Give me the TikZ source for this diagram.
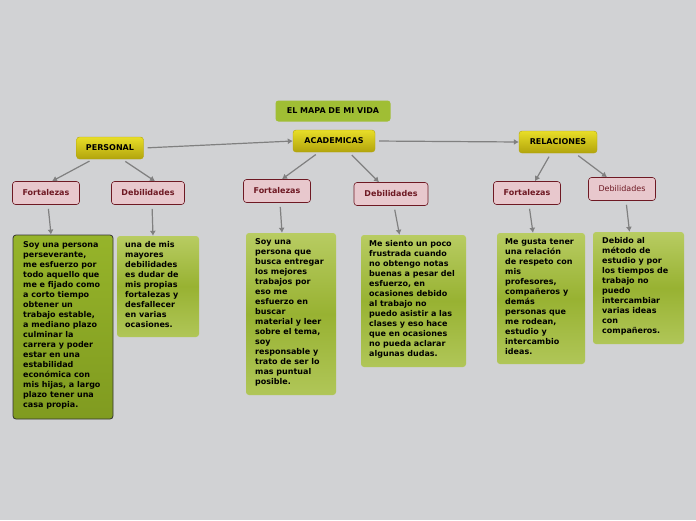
\documentclass[tikz,border=0pt]{standalone}
\usepackage{fontspec}
\setmainfont{DejaVu Sans}
\usetikzlibrary{arrows.meta}
\definecolor{bgc}{RGB}{209,210,212}
\definecolor{tboxtop}{RGB}{184,204,98}
\definecolor{tboxmid}{RGB}{152,178,50}
\definecolor{tboxbot}{RGB}{176,198,88}
\definecolor{darktop}{RGB}{150,180,42}
\definecolor{darkbot}{RGB}{128,155,32}
\definecolor{maintop}{RGB}{232,222,40}
\definecolor{mainbot}{RGB}{178,164,12}
\definecolor{titlec}{RGB}{160,190,52}
\definecolor{subfill}{RGB}{232,200,205}
\definecolor{subdraw}{RGB}{110,25,35}
\begin{document}
\begin{tikzpicture}[x=1pt,y=-1pt,
  every node/.style={font=\bfseries\fontsize{8}{10}\selectfont},
  main/.style={draw=mainbot,rounded corners=3pt,top color=maintop,bottom color=mainbot,inner sep=0pt,minimum height=22pt,line width=0.4pt},
  title/.style={fill=titlec,rounded corners=3pt,inner sep=0pt,minimum height=21pt},
  sub/.style={draw=subdraw,fill=subfill,rounded corners=3pt,text=subdraw,inner sep=0pt,minimum height=23pt,line width=0.6pt},
  tbox/.style={rounded corners=3pt,top color=tboxtop,bottom color=tboxbot,middle color=tboxmid,inner sep=0pt},
  txt/.style={anchor=north west,align=left,inner sep=0pt},
  arr/.style={draw=gray,line width=1.2pt,-{Latex[length=5pt,width=6pt]},shorten <=4pt}]
\useasboundingbox[fill=bgc] (0,0) rectangle (696,520);
\node[title,minimum width=115pt] (t) at (333,111) {EL MAPA DE MI VIDA};
\node[main,minimum width=67pt] (p) at (110,148) {PERSONAL};
\node[main,minimum width=82pt] (a) at (334,141) {ACADEMICAS};
\node[main,minimum width=78pt] (r) at (558,142) {RELACIONES};
\node[sub,minimum width=67pt] (f1) at (46,193) {Fortalezas};
\node[sub,minimum width=73pt] (d1) at (148,193) {Debilidades};
\node[sub,minimum width=67pt] (f2) at (277,191) {Fortalezas};
\node[sub,minimum width=74pt] (d2) at (391,194) {Debilidades};
\node[sub,minimum width=67pt] (f3) at (527,193) {Fortalezas};
\node[sub,minimum width=67pt,font=\fontsize{8}{10}\selectfont] (d3) at (622,189) {Debilidades};
% text boxes
\node[draw=black!80,line width=0.8pt,rounded corners=3pt,top color=darktop,bottom color=darkbot,inner sep=0pt,minimum width=100pt,minimum height=184pt] (b1) at (63,327) {};
\node[txt] at (23,241) {Soy una persona\\perseverante,\\me esfuerzo por\\todo aquello que\\me e fijado como\\a corto tiempo\\obtener un\\trabajo estable,\\a mediano plazo\\culminar la\\carrera y poder\\estar en una\\estabilidad\\económica con\\mis hijas, a largo\\plazo tener una\\casa propia.};
\node[tbox,minimum width=82pt,minimum height=101pt] (b2) at (158,286.5) {};
\node[txt] at (125,241) {una de mis\\mayores\\debilidades\\es dudar de\\mis propias\\fortalezas y\\desfallecer\\en varias\\ocasiones.};
\node[tbox,minimum width=90pt,minimum height=162pt] (b3) at (291,314) {};
\node[txt] at (255,238) {Soy una\\persona que\\busca entregar\\los mejores\\trabajos por\\eso me\\esfuerzo en\\buscar\\material y leer\\sobre el tema,\\soy\\responsable y\\trato de ser lo\\mas puntual\\posible.};
\node[tbox,minimum width=105pt,minimum height=132pt] (b4) at (413.5,301) {};
\node[txt] at (369,240) {Me siento un poco\\frustrada cuando\\no obtengo notas\\buenas a pesar del\\esfuerzo, en\\ocasiones debido\\al trabajo no\\puedo asistir a las\\clases y eso hace\\que en ocasiones\\no pueda aclarar\\algunas dudas.};
\node[tbox,minimum width=88pt,minimum height=131pt] (b5) at (541,298.5) {};
\node[txt] at (505,238) {Me gusta tener\\una relación\\de respeto con\\mis\\profesores,\\compañeros y\\demás\\personas que\\me rodean,\\estudio y\\intercambio\\ideas.};
\node[tbox,minimum width=91pt,minimum height=112pt] (b6) at (638.5,288) {};
\node[txt] at (602,237) {Debido al\\método de\\estudio y por\\los tiempos de\\trabajo no\\puedo\\intercambiar\\varias ideas\\con\\compañeros.};
% arrows
\draw[arr] (p.east) -- (a.west);
\draw[arr] (a.east) -- (r.west);
\draw[arr] ([xshift=-17pt]p.south) -- ([xshift=6pt]f1.north);
\draw[arr] ([xshift=12pt]p.south) -- ([xshift=7pt]d1.north);
\draw[arr] ([xshift=-15pt]a.south) -- ([xshift=5pt]f2.north);
\draw[arr] ([xshift=15pt]a.south) -- ([xshift=-12pt]d2.north);
\draw[arr] ([xshift=-7pt]r.south) -- ([xshift=8pt]f3.north);
\draw[arr] ([xshift=17pt]r.south) -- ([xshift=-15pt]d3.north);
\draw[arr] ([xshift=2pt]f1.south) -- ([xshift=-12pt]b1.north);
\draw[arr] ([xshift=4pt]d1.south) -- ([xshift=-5pt]b2.north);
\draw[arr] ([xshift=3pt]f2.south) -- ([xshift=-9pt]b3.north);
\draw[arr] ([xshift=3pt]d2.south) -- ([xshift=-14pt]b4.north);
\draw[arr] ([xshift=2pt]f3.south) -- ([xshift=-8pt]b5.north);
\draw[arr] ([xshift=4pt]d3.south) -- ([xshift=-9pt]b6.north);
\end{tikzpicture}
\end{document}
